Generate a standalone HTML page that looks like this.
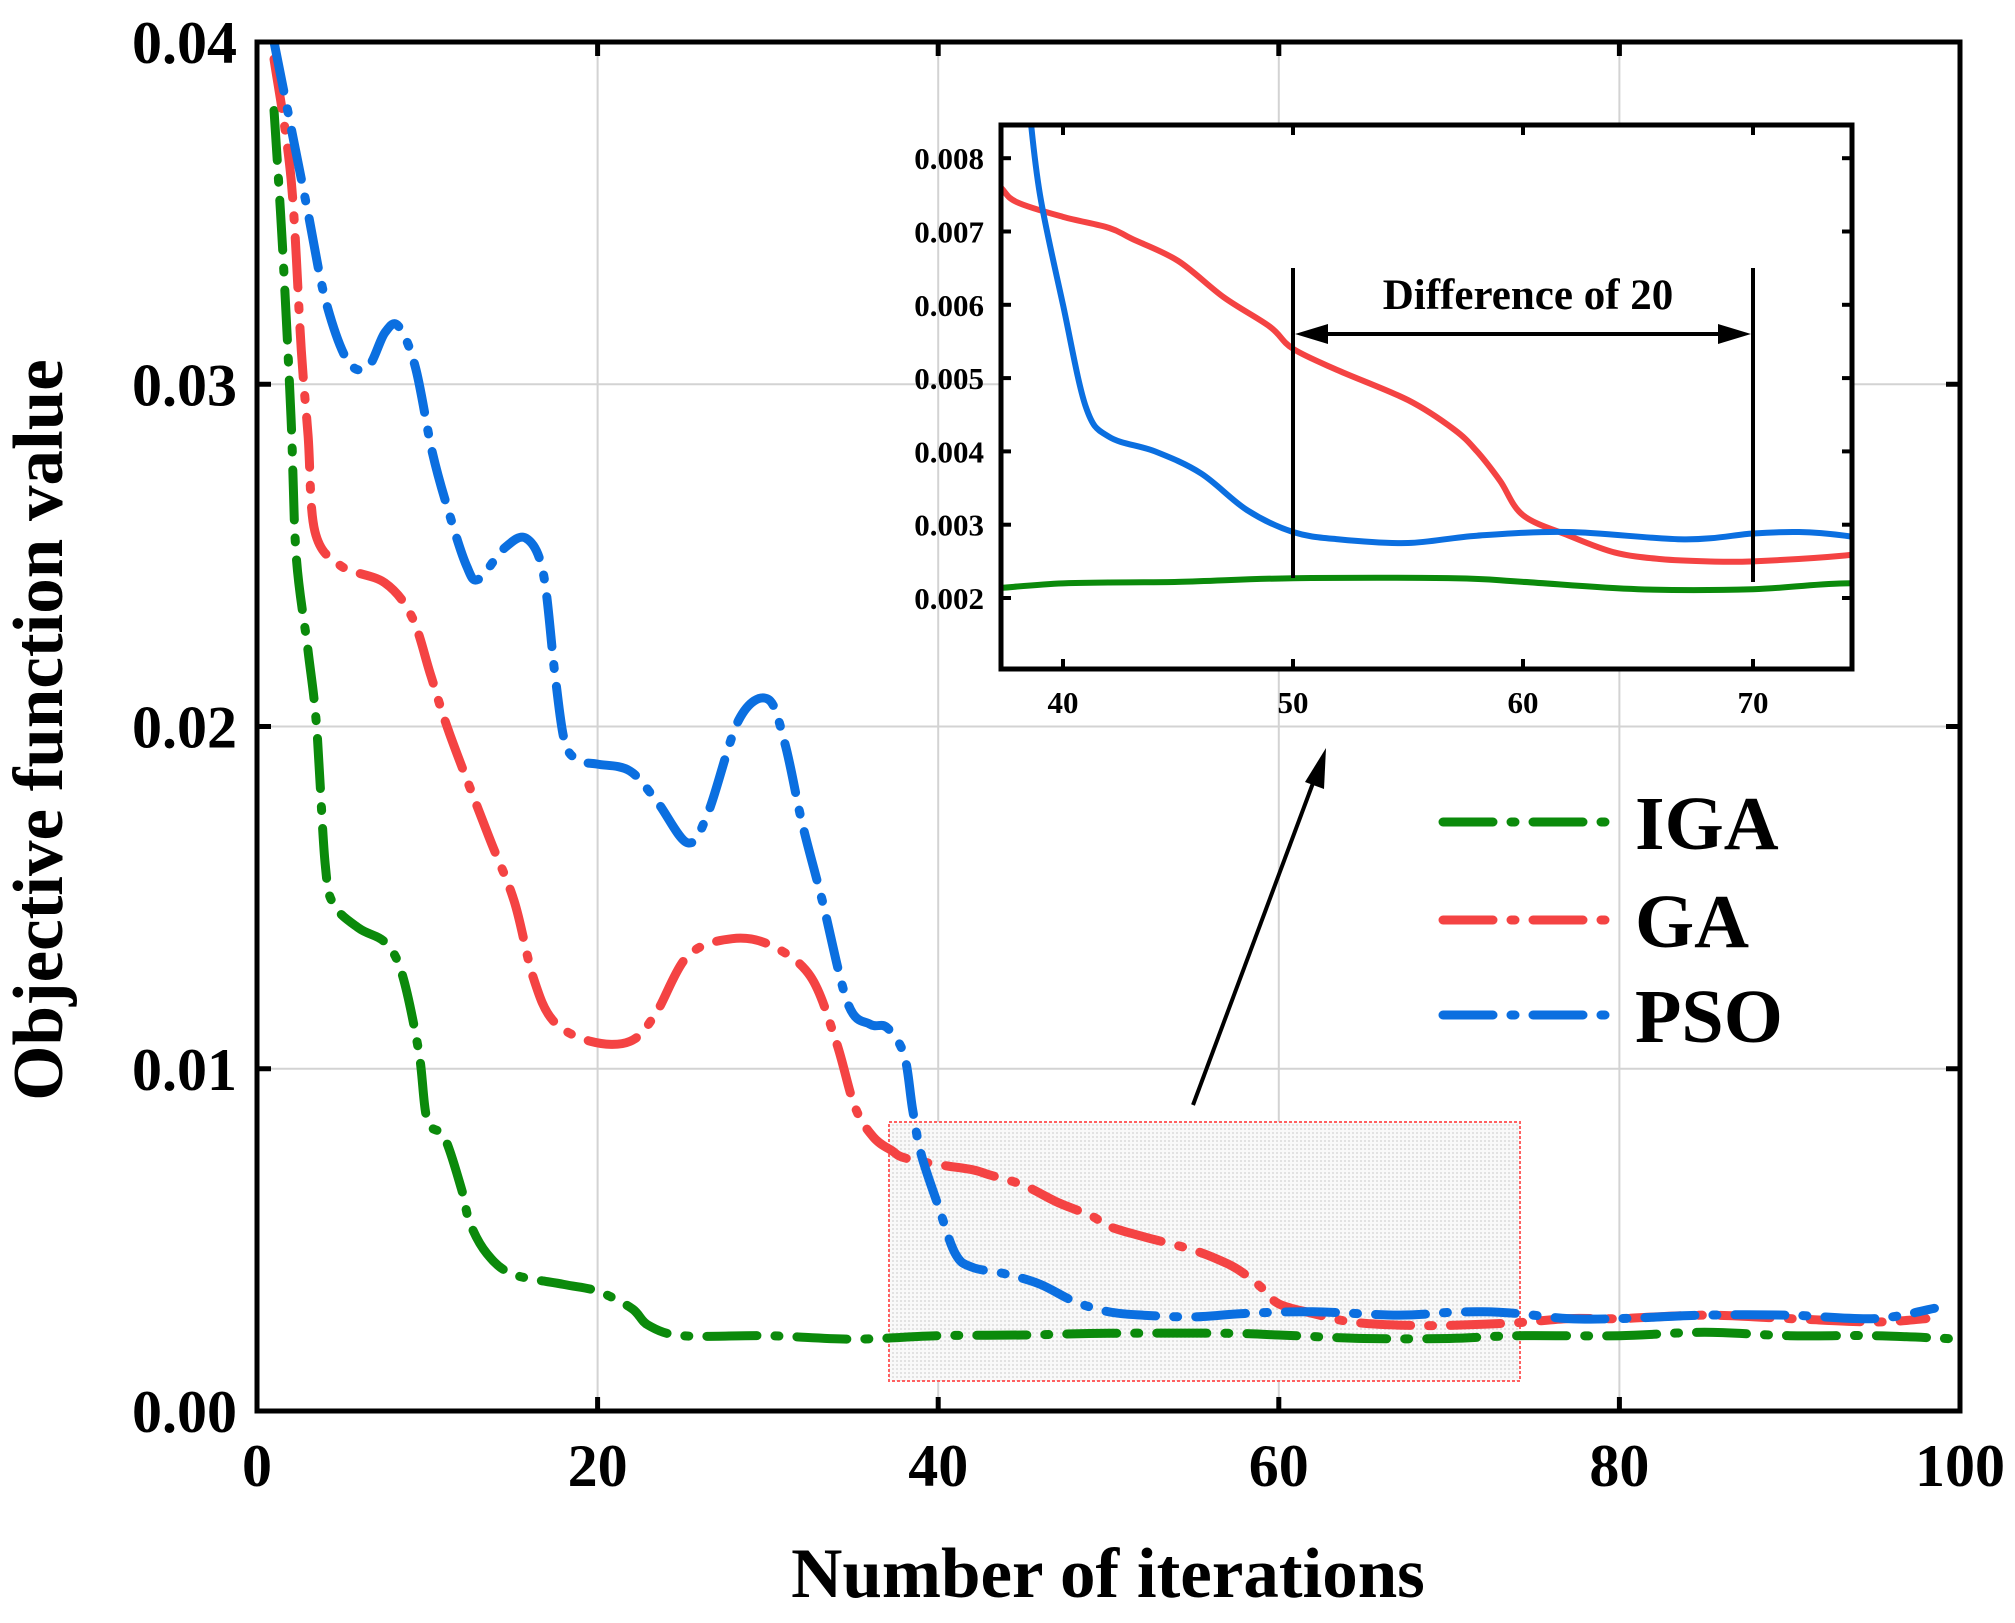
<!DOCTYPE html>
<html><head><meta charset="utf-8"><style>
html,body{margin:0;padding:0;background:#fff}
svg text{font-family:"Liberation Serif",serif;font-weight:bold}
</style></head><body>
<svg id="s" width="2015" height="1618" viewBox="0 0 2015 1618" xmlns="http://www.w3.org/2000/svg">
<defs>
<clipPath id="cm"><rect x="257" y="42" width="1703" height="1369"/></clipPath>
<clipPath id="ci"><rect x="1001" y="125" width="851" height="544"/></clipPath>
<pattern id="hp" width="4" height="4" patternUnits="userSpaceOnUse"><rect width="4" height="4" fill="#f9f9f9"/><rect width="2" height="2" fill="#e2e2e2"/></pattern>
</defs>
<g stroke="#d3d3d3" stroke-width="2" id="grid"></g>
<rect x="889" y="1122" width="631" height="259" fill="url(#hp)" stroke="#ff6060" stroke-width="2" stroke-dasharray="3 2"/>
<g id="main" clip-path="url(#cm)" fill="none" stroke-width="9" stroke-linecap="round" stroke-linejoin="round"></g>
<rect x="257" y="42" width="1703" height="1369" fill="none" stroke="#000" stroke-width="5"/>
<g id="mticks" stroke="#000" stroke-width="5"></g>
<g id="mlabels" font-size="60" fill="#000"></g>
<text x="1108" y="1597" font-size="71" text-anchor="middle">Number of iterations</text>
<text transform="translate(62,730) rotate(-90)" font-size="71" text-anchor="middle">Objective function value</text>
<g stroke-width="9" stroke-linecap="round" fill="none" stroke-dasharray="50 18 4 18">
<line x1="1443" y1="822" x2="1619" y2="822" stroke="#0b8a0b"/>
<line x1="1443" y1="920" x2="1619" y2="920" stroke="#f44343"/>
<line x1="1443" y1="1015" x2="1619" y2="1015" stroke="#0b6fe0"/>
</g>
<g font-size="76" fill="#000">
<text x="1635" y="849">IGA</text>
<text x="1635" y="947">GA</text>
<text x="1635" y="1042">PSO</text>
</g>
<line x1="1193" y1="1105" x2="1316" y2="775" stroke="#000" stroke-width="4"/>
<polygon points="1326,748 1305,782 1324,789" fill="#000"/>
<rect x="1001" y="125" width="851" height="544" fill="#fff"/>
<g id="inset" clip-path="url(#ci)" fill="none" stroke-width="6" stroke-linecap="round" stroke-linejoin="round"></g>
<rect x="1001" y="125" width="851" height="544" fill="none" stroke="#000" stroke-width="5"/>
<g id="iticks" stroke="#000" stroke-width="4"></g>
<g id="ilabels" font-size="31" fill="#000"></g>
<line x1="1293" y1="268" x2="1293" y2="578" stroke="#000" stroke-width="4"/>
<line x1="1753" y1="268" x2="1753" y2="582" stroke="#000" stroke-width="4"/>
<line x1="1315" y1="334" x2="1731" y2="334" stroke="#000" stroke-width="4"/>
<polygon points="1295,334 1328,324 1328,344" fill="#000"/>
<polygon points="1751,334 1718,324 1718,344" fill="#000"/>
<text x="1528" y="309" font-size="43" text-anchor="middle">Difference of 20</text>
</svg>
<script>
var NS="http://www.w3.org/2000/svg";
function el(p,t,a,txt){var e=document.createElementNS(NS,t);for(var k in a)e.setAttribute(k,a[k]);if(txt!=null)e.textContent=txt;p.appendChild(e);return e;}
var mx=function(x){return 257+x*17.03},my=function(y){return 1411-y*34225};
var ix=function(x){return 1063+(x-40)*23},iy=function(y){return 598-(y-0.002)*73300};
var pso=[[1,0.040],[2,0.0375],[3,0.035],[4,0.0325],[5.3,0.0307],[6.5,0.0305],[7.5,0.0315],[8.3,0.0317],[9.3,0.0305],[10.3,0.028],[11.3,0.0262],[12.3,0.0247],[13,0.0243],[14.5,0.0252],[15.8,0.0255],[16.8,0.0245],[17.5,0.0215],[18.1,0.0195],[19,0.019],[20,0.0189],[21.9,0.0187],[23.5,0.0178],[25.3,0.0166],[26.5,0.0175],[28.3,0.0202],[30,0.0208],[31,0.0195],[32,0.0172],[33.2,0.0149],[34.7,0.0119],[36,0.0113],[37,0.0112],[38,0.0104],[38.5,0.0088],[39,0.0075],[40,0.0060],[41,0.0046],[42,0.0042],[44,0.0040],[46,0.0037],[48,0.0032],[50,0.0029],[52,0.0028],[55,0.00275],[58,0.00285],[62,0.0029],[67,0.0028],[70,0.00288],[72,0.0029],[74,0.00285],[77,0.0027],[80,0.0027],[85,0.0028],[90,0.0028],[95,0.0027],[98.5,0.0030]];
var ga=[[1,0.0395],[2,0.036],[2.6,0.031],[3,0.0285],[3.4,0.0257],[4.9,0.0247],[7.5,0.0242],[9.1,0.0232],[10.2,0.0215],[11.3,0.0198],[13.6,0.0168],[15.1,0.0149],[16.2,0.0127],[17.4,0.0114],[19.6,0.0108],[21.9,0.0108],[23.4,0.0116],[25.3,0.0133],[27.9,0.0138],[30.2,0.0136],[32.5,0.0127],[34,0.0108],[35.1,0.0089],[36.2,0.0080],[37.3,0.0076],[38,0.0074],[40,0.0072],[42,0.00705],[43,0.0069],[45,0.0066],[47,0.0061],[49,0.0057],[50,0.0054],[52,0.0051],[55,0.0047],[57,0.0043],[58,0.0040],[59,0.0036],[60,0.00313],[62,0.00285],[64,0.00262],[66,0.00253],[68,0.0025],[70,0.0025],[74,0.00258],[77,0.0027],[80,0.0027],[85,0.0028],[90,0.0027],[95,0.0026],[98,0.0027]];
var iga=[[1,0.038],[1.5,0.034],[2,0.029],[2.3,0.025],[3,0.0222],[3.5,0.020],[4,0.016],[4.5,0.0148],[6,0.0141],[7.5,0.0137],[8.5,0.0128],[9.5,0.0105],[10,0.0085],[11,0.0080],[12,0.0065],[12.5,0.0055],[13.5,0.0046],[15,0.0040],[18,0.0037],[20,0.0035],[22,0.0030],[23,0.0025],[25,0.0022],[30,0.0022],[35,0.0021],[40,0.0022],[45,0.00222],[50,0.00227],[57,0.00227],[60,0.00222],[65,0.00212],[70,0.00212],[74,0.0022],[80,0.0022],[85,0.0023],[90,0.0022],[95,0.0022],[100,0.0021]];
function path(d,fx,fy){var p=d.map(function(q){return[fx(q[0]),fy(q[1])]});var s="M"+p[0][0]+","+p[0][1];
for(var i=0;i<p.length-1;i++){var p0=p[i-1]||p[i],p1=p[i],p2=p[i+1],p3=p[i+2]||p2;
s+=" C"+(p1[0]+(p2[0]-p0[0])/6)+","+(p1[1]+(p2[1]-p0[1])/6)+" "+(p2[0]-(p3[0]-p1[0])/6)+","+(p2[1]-(p3[1]-p1[1])/6)+" "+p2[0]+","+p2[1];}return s;}
var cols={iga:"#0b8a0b",ga:"#f44343",pso:"#0b6fe0"};
var m=document.getElementById("main"),ins=document.getElementById("inset");
[["iga",iga],["ga",ga],["pso",pso]].forEach(function(a){
el(m,"path",{d:path(a[1],mx,my),stroke:cols[a[0]],"stroke-dasharray":"50 18 4 18"});
el(ins,"path",{d:path(a[1],ix,iy),stroke:cols[a[0]]});});
var g=document.getElementById("grid");
[20,40,60,80].forEach(function(x){el(g,"line",{x1:mx(x),x2:mx(x),y1:42,y2:1411});});
[0.01,0.02,0.03].forEach(function(y){el(g,"line",{x1:257,x2:1960,y1:my(y),y2:my(y)});});
var t=document.getElementById("mticks"),L=document.getElementById("mlabels");
[0,20,40,60,80,100].forEach(function(x){var X=mx(x);el(t,"line",{x1:X,x2:X,y1:1411,y2:1397});el(t,"line",{x1:X,x2:X,y1:42,y2:56});
el(L,"text",{x:X,y:1486,"text-anchor":"middle"},String(x));});
["0.00","0.01","0.02","0.03","0.04"].forEach(function(s,i){var Y=my(i*0.01);el(t,"line",{x1:257,x2:271,y1:Y,y2:Y});el(t,"line",{x1:1960,x2:1946,y1:Y,y2:Y});
el(L,"text",{x:237,y:Y+21,"text-anchor":"end"},s);});
var it=document.getElementById("iticks"),IL=document.getElementById("ilabels");
[40,50,60,70].forEach(function(x){var X=ix(x);el(it,"line",{x1:X,x2:X,y1:669,y2:659});el(it,"line",{x1:X,x2:X,y1:125,y2:135});
el(IL,"text",{x:X,y:713,"text-anchor":"middle"},String(x));});
for(var k=2;k<=8;k++){var Y=iy(k/1000);el(it,"line",{x1:1001,x2:1011,y1:Y,y2:Y});el(it,"line",{x1:1852,x2:1842,y1:Y,y2:Y});
el(IL,"text",{x:984,y:Y+11,"text-anchor":"end"},"0.00"+k);}
</script>
</body></html>
